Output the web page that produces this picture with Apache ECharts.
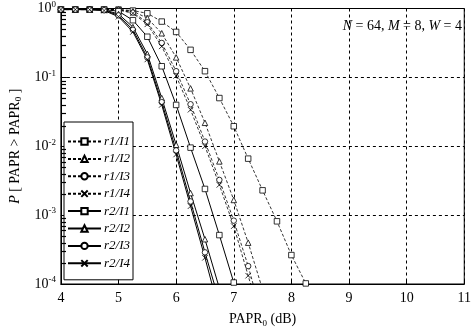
<!DOCTYPE html>
<html>
<head>
<meta charset="utf-8">
<script src="https://cdn.jsdelivr.net/npm/echarts@6/dist/echarts.min.js"></script>
<style>
  html, body { margin: 0; padding: 0; background: #fff; }
  #chart { width: 474px; height: 333px; }
</style>
</head>
<body>
<div id="chart"></div>
<script>
// PAPR threshold values (dB) at which the CCDF was evaluated
const paprDb = [4, 4.25, 4.5, 4.75, 5, 5.25, 5.5, 5.75, 6, 6.25, 6.5, 6.75, 7, 7.25, 7.5, 7.75, 8, 8.25];

// CCDF  P[PAPR > PAPR0]  for each scheme (null = not computed)
const r1I1 = [0.966, 0.966, 0.966, 0.966, 0.966, 0.933, 0.851, 0.646, 0.457, 0.251, 0.123, 0.0501, 0.0195, 0.00661, 0.00229, 0.000813, 0.000263, 0.000102];
const r1I2 = [0.966, 0.966, 0.966, 0.966, 0.966, 0.912, 0.724, 0.437, 0.195, 0.0692, 0.0219, 0.00603, 0.00166, 0.000398, 0.0000832, null, null, null];
const r1I3 = [0.966, 0.966, 0.966, 0.966, 0.955, 0.871, 0.631, 0.316, 0.123, 0.0407, 0.0117, 0.00324, 0.000832, 0.000182, 0.0000316, null, null, null];
const r1I4 = [0.966, 0.966, 0.966, 0.966, 0.955, 0.851, 0.589, 0.282, 0.105, 0.0339, 0.0100, 0.00275, 0.000692, 0.000132, 0.0000251, null, null, null];
const r2I1 = [0.966, 0.966, 0.966, 0.966, 0.912, 0.676, 0.389, 0.145, 0.0398, 0.00955, 0.00240, 0.000513, 0.000105, null, null, null, null, null];
const r2I2 = [0.966, 0.966, 0.966, 0.955, 0.832, 0.537, 0.219, 0.0501, 0.0105, 0.00209, 0.000447, 0.0000871, null, null, null, null, null, null];
const r2I3 = [0.966, 0.966, 0.962, 0.944, 0.794, 0.490, 0.195, 0.0437, 0.00871, 0.00158, 0.000288, 0.0000562, null, null, null, null, null, null];
const r2I4 = [0.966, 0.966, 0.962, 0.933, 0.76, 0.457, 0.182, 0.0398, 0.00759, 0.00135, 0.000240, 0.0000398, null, null, null, null, null, null];

const seriesNames = ['r1/I1', 'r1/I2', 'r1/I3', 'r1/I4', 'r2/I1', 'r2/I2', 'r2/I3', 'r2/I4'];
const seriesValues = [r1I1, r1I2, r1I3, r1I4, r2I1, r2I2, r2I3, r2I4];

// x-axis range and y-axis decades
const xTicks = [4, 5, 6, 7, 8, 9, 10, 11];
const yDecades = [-4, -3, -2, -1, 0];

// logarithmic minor ticks: 2..9 x 10^k inside every decade
const yMinorTicks = [];
for (let d = 0; d < yDecades.length - 1; d++) {
  for (let m = 2; m <= 9; m++) yMinorTicks.push(m * Math.pow(10, yDecades[d]));
}

const CROSS = 'path://M0,0L10,10M10,0L0,10';
const markerShapes = ['rect', 'triangle', 'circle', CROSS, 'rect', 'triangle', 'circle', CROSS];
const SERIF = '"Liberation Serif", "DejaVu Serif", serif';

const series = seriesNames.map(function (name, i) {
  const dashed = i < 4;
  const data = [];
  seriesValues[i].forEach(function (v, k) {
    if (v !== null) data.push([paprDb[k], v]);
  });
  const isCross = markerShapes[i] === CROSS;
  return {
    name: name,
    type: 'line',
    data: data,
    clip: true,
    symbol: markerShapes[i],
    symbolSize: 5.5,
    showAllSymbol: true,
    lineStyle: { color: '#000', width: dashed ? 0.8 : 1, type: dashed ? [3, 2] : 'solid' },
    itemStyle: { color: isCross ? '#000' : '#fff', borderColor: '#000', borderWidth: 0.8 },
    emphasis: { disabled: true },
    animation: false
  };
});

const chart = echarts.init(document.getElementById('chart'), null, { renderer: 'canvas' });
chart.setOption({
  backgroundColor: '#fff',
  animation: false,
  textStyle: { fontFamily: SERIF, color: '#000' },
  title: {
    text: '{i|N} = 64, {i|M} = 8, {i|W} = 4',
    right: 7,
    top: 14,
    textStyle: {
      fontFamily: SERIF, fontSize: 14, fontWeight: 'normal', color: '#000',
      rich: { i: { fontFamily: SERIF, fontSize: 14, fontStyle: 'italic', color: '#000' } }
    }
  },
  grid: {
    left: 52, right: 4, top: 8, bottom: 44,
    show: true, borderColor: '#000', borderWidth: 1, backgroundColor: 'transparent'
  },
  legend: {
    orient: 'vertical',
    left: 64,
    top: 122,
    padding: [13, 3, 10, 3],
    itemWidth: 33,
    itemHeight: 8,
    itemGap: 4.4,
    backgroundColor: '#fff',
    borderColor: '#000',
    borderWidth: 1,
    borderRadius: 0,
    textStyle: { fontFamily: SERIF, fontSize: 13, fontStyle: 'italic', color: '#000', padding: [0, 0, 0, -2] },
    data: seriesNames
  },
  xAxis: {
    type: 'value',
    min: xTicks[0],
    max: xTicks[xTicks.length - 1],
    interval: 1,
    name: 'PAPR{sub|0} (dB)',
    nameLocation: 'middle',
    nameGap: 27,
    nameTextStyle: {
      fontFamily: SERIF, fontSize: 14, color: '#000',
      rich: { sub: { fontFamily: SERIF, fontSize: 9, verticalAlign: 'bottom', padding: [8, 0, 0, 0] } }
    },
    axisLine: { show: true, lineStyle: { color: '#000', width: 1 } },
    axisTick: { show: true, inside: true, length: 5, lineStyle: { color: '#000' } },
    axisLabel: { fontFamily: SERIF, fontSize: 14, color: '#000', margin: 7 },
    splitLine: { show: true, lineStyle: { color: '#000', width: 1, type: [3, 3] } }
  },
  yAxis: {
    type: 'log',
    logBase: 10,
    min: Math.pow(10, yDecades[0]),
    max: Math.pow(10, yDecades[yDecades.length - 1]),
    name: '{i|P} [ PAPR > PAPR{sub|0} ]',
    nameLocation: 'middle',
    nameGap: 36,
    nameTextStyle: {
      fontFamily: SERIF, fontSize: 14, color: '#000',
      rich: {
        i: { fontFamily: SERIF, fontSize: 14, fontStyle: 'italic' },
        sub: { fontFamily: SERIF, fontSize: 9, verticalAlign: 'bottom', padding: [8, 0, 0, 0] }
      }
    },
    axisLine: { show: true, lineStyle: { color: '#000', width: 1 } },
    axisTick: { show: true, inside: true, length: 6, lineStyle: { color: '#000' } },
    axisLabel: {
      fontFamily: SERIF, fontSize: 14, color: '#000', margin: 5,
      formatter: function (v) {
        const e = Math.round(Math.log10(v));
        return '10{sup|' + (e === 0 ? '0' : e) + '}';
      },
      rich: { sup: { fontFamily: SERIF, fontSize: 9, verticalAlign: 'top', padding: [0, 0, 8, 0] } }
    },
    splitLine: { show: true, lineStyle: { color: '#000', width: 1, type: [3, 3] } }
  },
  series: series
});

// short inward minor ticks on the left edge, positioned through the log y scale
const minorTickLines = yMinorTicks.map(function (v) {
  const p = chart.convertToPixel({ xAxisIndex: 0, yAxisIndex: 0 }, [xTicks[0], v]);
  const x0 = Math.round(p[0]);
  const y0 = Math.round(p[1]) + 0.5;
  return {
    type: 'line',
    silent: true,
    z: 10,
    shape: { x1: x0, y1: y0, x2: x0 + 5, y2: y0 },
    style: { stroke: '#000', lineWidth: 1.2 }
  };
});
chart.setOption({ graphic: { elements: minorTickLines } });
</script>
</body>
</html>
